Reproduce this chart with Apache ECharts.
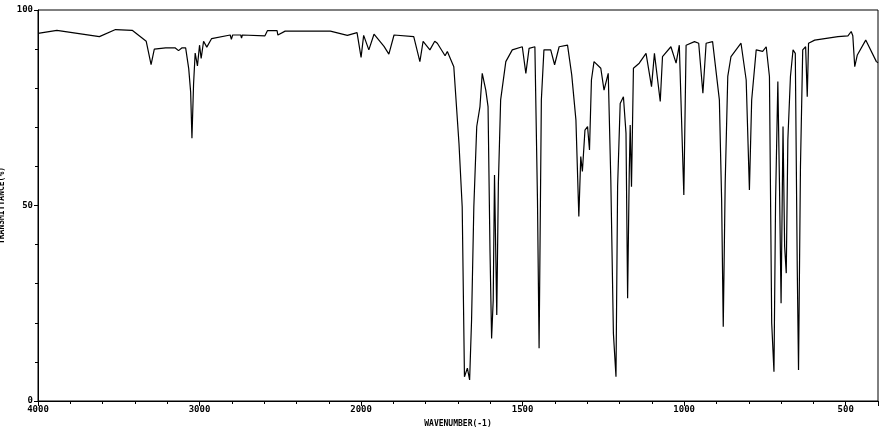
<!DOCTYPE html>
<html><head><meta charset="utf-8">
<script src="https://cdn.jsdelivr.net/npm/echarts@6/dist/echarts.min.js"></script>
<style>html,body{margin:0;padding:0;background:#fff}#c{width:887px;height:429px}</style>
</head><body><div id="c"></div>
<script>
var wavenumbers = [4000,3883,3620,3520,3417,3330,3300,3280,3210,3150,3130,3110,3086,3067,3055,3047,3037,3027,3013,3000,2990,2975,2955,2925,2810,2803,2795,2745,2740,2735,2595,2580,2520,2515,2470,2190,2085,2025,2000,1992,1976,1960,1929,1914,1898,1837,1818,1808,1787,1772,1740,
1764,1733,1713,1697,1687,1680,1671,1664,1658,1651,1642,1632,1625,1614,1607,1601,1596,1591,1587,1580,1575,1568,1552,1532,1501,1490,1480,1462,1454,1449,1442,1434,1413,1401,1387,1361,1348,1335,1326,1320,1315,1307,1299,1293,1287,1279,1258,1248,1235,1227,1219,1211,1206,1198,1188,1180,1175,1170,1167,1163,1157,1139,1118,1101,1092,1074,1067,1041,1025,1015,1001,994,968,955,942,932,912,891,884,879,873,865,855,824,808,798,791,777,757,746,736,729,722,717,710,705,700,694,689,684,679,671,663,656,650,646,640,633,624,619,615,596,524,493,483,478,472,464,438,405,400];
var transmittance = [94,94.8,93.2,95,94.8,92,86,90,90.3,90.3,89.6,90.3,90.3,85,79,67.2,81,89,85.7,91,87.6,92,90.5,92.7,93.6,92.5,93.6,93.6,92.8,93.6,93.4,94.7,94.7,93.6,94.6,94.6,93.5,94.2,87.9,93.5,89.8,93.8,90.7,88.7,93.6,93.2,86.8,92,89.8,92,88.3,
91.5,89.4,85.5,65.9,49.7,6.2,8.4,5.4,20.7,49.7,70.2,75.3,83.8,79.5,75.3,38.6,16,25.8,57.8,22,55.7,77,86.8,89.8,90.6,83.8,90.2,90.6,51.4,13.5,77,89.8,89.8,86,90.6,91,83.4,71.9,47.2,62.5,58.7,69.3,70.2,64.2,82.1,86.8,85.1,79.5,83.8,56.5,17.3,6.2,54.8,76.1,77.8,68.5,26.3,58.2,70.6,54.8,85.1,86.4,88.9,80.4,88.9,76.6,88.1,90.6,86.4,91,52.7,91,91.9,91.5,78.7,91.5,91.9,77,51.4,19,55.7,83,88.1,91.5,82.1,54,77,89.8,89.4,90.6,83,19.9,7.5,51.4,81.7,55.7,25,70.2,39.5,32.7,66.8,83,89.8,88.9,34.4,7.9,59.9,89.8,90.6,77.8,91.5,92.3,93.2,93.4,94.5,93.4,85.5,88.5,92.3,86.8,86.5];
var xTickLabels = ['4000','3000','2000','1500','1000','500'];
var yTickLabels = ['0','50','100'];

// piecewise wavenumber scale: 4000-2000 at half the density of 2000-400
function toPos(w){ return w >= 2000 ? (4000 - w) / 2 : 1000 + (2000 - w); }
var pts = wavenumbers.map(function(w,i){ return [toPos(w), transmittance[i]]; })
  .sort(function(a,b){ return a[0]-b[0]; });

var font = {fontFamily:'DejaVu Sans Mono', fontSize:9, fontWeight:'bold', color:'#000'};
var chart = echarts.init(document.getElementById('c'));
chart.setOption({
  animation:false,
  grid:{left:38,right:9,top:10,bottom:28,show:true,borderColor:'#000',borderWidth:1,outerBoundsMode:'none',containLabel:false},
  xAxis:{type:'value',min:0,max:2600,interval:500,
    name:'WAVENUMBER(-1)',nameLocation:'middle',nameGap:19,nameTextStyle:Object.assign({},font,{fontSize:8}),
    axisLine:{lineStyle:{color:'#000'}},axisTick:{length:5,lineStyle:{color:'#000'}},
    minorTick:{show:true,splitNumber:5,length:3,lineStyle:{color:'#000'}},
    splitLine:{show:false},
    axisLabel:Object.assign({},font,{margin:4,showMaxLabel:false,formatter:function(v){return v%500===0?(xTickLabels[v/500]||''):'';}})},
  yAxis:{type:'value',min:0,max:100,interval:50,
    name:'TRANSMITTANCE(%)',nameLocation:'middle',nameGap:28,nameTextStyle:Object.assign({},font,{fontSize:8}),
    axisLine:{lineStyle:{color:'#000'}},axisTick:{length:4,lineStyle:{color:'#000'}},
    minorTick:{show:true,splitNumber:5,length:3,lineStyle:{color:'#000'}},
    splitLine:{show:false},
    axisLabel:Object.assign({},font,{margin:5,formatter:function(v){return v%50===0?(yTickLabels[v/50]||''):'';}})},
  series:[{type:'line',data:pts,showSymbol:false,lineStyle:{color:'#000',width:1.2},silent:true}]
});
</script></body></html>
